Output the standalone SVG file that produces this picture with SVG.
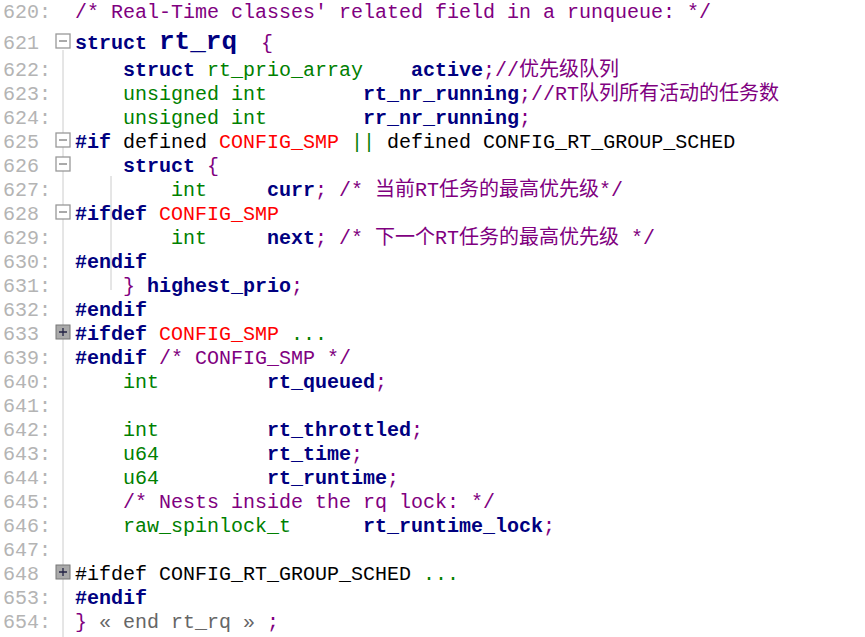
<svg xmlns="http://www.w3.org/2000/svg" width="865" height="637" viewBox="0 0 865 637">
<style>
text{font-family:"Liberation Mono","Noto Sans CJK SC",monospace;font-size:20px;white-space:pre}
.n{fill:#b4b4b4}
.k{fill:#000080;font-weight:bold}
.t{fill:#008000}
.c{fill:#800080}
.r{fill:#ff0000}
.b{fill:#000000}
.p{fill:#800080}
.fold{fill:#fff;stroke:#999;stroke-width:1.3}
</style>
<rect width="865" height="637" fill="#fff"/>
<g id="gutter" stroke="#ccc" stroke-width="1">
<line x1="63" y1="50" x2="63" y2="637"/>
<line x1="111" y1="176" x2="111" y2="290"/>
</g>
<g id="folds">
<rect class="fold" x="56" y="34" width="14" height="14"/><line x1="59" y1="41" x2="67" y2="41" stroke="#555"/>
<rect class="fold" x="56" y="133" width="14" height="14"/><line x1="59" y1="140" x2="67" y2="140" stroke="#555"/>
<rect class="fold" x="56" y="157" width="14" height="14"/><line x1="59" y1="164" x2="67" y2="164" stroke="#555"/>
<rect class="fold" x="56" y="205" width="14" height="14"/><line x1="59" y1="212" x2="67" y2="212" stroke="#555"/>
<rect x="56" y="325" width="14" height="14" fill="#aaa" stroke="#777"/><path d="M59 332h8M63 328v8" stroke="#224" stroke-width="1.3"/>
<rect x="56" y="565" width="14" height="14" fill="#aaa" stroke="#777"/><path d="M59 572h8M63 568v8" stroke="#224" stroke-width="1.3"/>
</g>
<g id="linenos">
<text class="n" x="3" y="18">620:</text>
<text class="n" x="3" y="49">621</text>
<text class="n" x="3" y="76">622:</text>
<text class="n" x="3" y="100">623:</text>
<text class="n" x="3" y="124">624:</text>
<text class="n" x="3" y="148">625</text>
<text class="n" x="3" y="172">626</text>
<text class="n" x="3" y="196">627:</text>
<text class="n" x="3" y="220">628</text>
<text class="n" x="3" y="244">629:</text>
<text class="n" x="3" y="268">630:</text>
<text class="n" x="3" y="292">631:</text>
<text class="n" x="3" y="316">632:</text>
<text class="n" x="3" y="340">633</text>
<text class="n" x="3" y="364">639:</text>
<text class="n" x="3" y="388">640:</text>
<text class="n" x="3" y="412">641:</text>
<text class="n" x="3" y="436">642:</text>
<text class="n" x="3" y="460">643:</text>
<text class="n" x="3" y="484">644:</text>
<text class="n" x="3" y="508">645:</text>
<text class="n" x="3" y="532">646:</text>
<text class="n" x="3" y="556">647:</text>
<text class="n" x="3" y="580">648</text>
<text class="n" x="3" y="604">653:</text>
<text class="n" x="3" y="628">654:</text>
</g>
<g id="code">
<text class="c" x="75" y="18">/* Real-Time classes' related field in a runqueue: */</text>
<text x="75" y="49"><tspan class="k">struct</tspan><tspan class="k" x="159" font-size="26">rt_rq</tspan><tspan class="p" x="249"> {</tspan></text>
<text x="123" y="76"><tspan class="k">struct</tspan><tspan class="t"> rt_prio_array</tspan><tspan class="k" x="411">active</tspan><tspan class="p">;//优先级队列</tspan></text>
<text x="123" y="100"><tspan class="t">unsigned int</tspan><tspan class="k" x="363">rt_nr_running</tspan><tspan class="p">;//RT队列所有活动的任务数</tspan></text>
<text x="123" y="124"><tspan class="t">unsigned int</tspan><tspan class="k" x="363">rr_nr_running</tspan><tspan class="p">;</tspan></text>
<text x="75" y="148"><tspan class="k">#if</tspan><tspan class="b"> defined </tspan><tspan class="r">CONFIG_SMP</tspan><tspan class="t"> ||</tspan><tspan class="b"> defined CONFIG_RT_GROUP_SCHED</tspan></text>
<text x="123" y="172"><tspan class="k">struct</tspan><tspan class="p"> {</tspan></text>
<text x="171" y="196"><tspan class="t">int</tspan><tspan class="k" x="267">curr</tspan><tspan class="p">; /* 当前RT任务的最高优先级*/</tspan></text>
<text x="75" y="220"><tspan class="k">#ifdef</tspan><tspan class="r"> CONFIG_SMP</tspan></text>
<text x="171" y="244"><tspan class="t">int</tspan><tspan class="k" x="267">next</tspan><tspan class="p">; /* 下一个RT任务的最高优先级 */</tspan></text>
<text class="k" x="75" y="268">#endif</text>
<text x="123" y="292"><tspan class="p">}</tspan><tspan class="k" x="147">highest_prio</tspan><tspan class="p">;</tspan></text>
<text class="k" x="75" y="316">#endif</text>
<text x="75" y="340"><tspan class="k">#ifdef</tspan><tspan class="r"> CONFIG_SMP</tspan><tspan class="t"> ...</tspan></text>
<text x="75" y="364"><tspan class="k">#endif</tspan><tspan class="c"> /* CONFIG_SMP */</tspan></text>
<text x="123" y="388"><tspan class="t">int</tspan><tspan class="k" x="267">rt_queued</tspan><tspan class="p">;</tspan></text>
<text x="123" y="436"><tspan class="t">int</tspan><tspan class="k" x="267">rt_throttled</tspan><tspan class="p">;</tspan></text>
<text x="123" y="460"><tspan class="t">u64</tspan><tspan class="k" x="267">rt_time</tspan><tspan class="p">;</tspan></text>
<text x="123" y="484"><tspan class="t">u64</tspan><tspan class="k" x="267">rt_runtime</tspan><tspan class="p">;</tspan></text>
<text class="c" x="123" y="508">/* Nests inside the rq lock: */</text>
<text x="123" y="532"><tspan class="t">raw_spinlock_t</tspan><tspan class="k" x="363">rt_runtime_lock</tspan><tspan class="p">;</tspan></text>
<text x="75" y="580"><tspan class="b">#ifdef CONFIG_RT_GROUP_SCHED</tspan><tspan class="t"> ...</tspan></text>
<text class="k" x="75" y="604">#endif</text>
<text x="75" y="628"><tspan class="p">}</tspan><tspan fill="#666"> « end rt_rq » </tspan><tspan class="p">;</tspan></text>
</g>
</svg>
